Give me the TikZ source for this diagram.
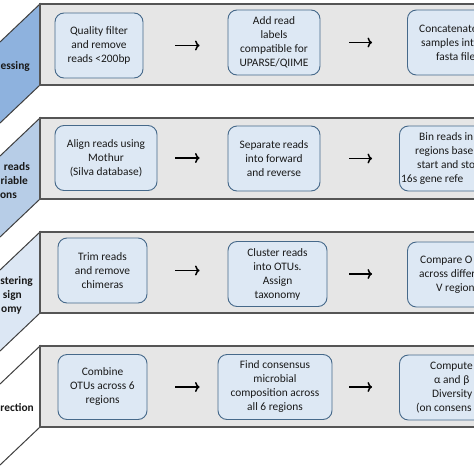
\documentclass[tikz,border=0pt]{standalone}
\usepackage{fontspec}
\setmainfont{Carlito}
\usetikzlibrary{arrows.meta}
\definecolor{panelfill}{HTML}{E6E6E6}
\definecolor{panelline}{HTML}{555555}
\definecolor{boxfill}{HTML}{DDE8F4}
\definecolor{boxline}{HTML}{46698A}
\definecolor{sideA}{HTML}{8EB2DE}
\definecolor{sideB}{HTML}{B7CDE7}
\definecolor{sideC}{HTML}{DCE7F4}
\definecolor{sideline}{HTML}{3F3F3F}
\begin{document}
\begin{tikzpicture}[x=1pt,y=-1pt,
  txt/.style={font=\fontsize{11.4}{14}\selectfont, text=black!90},
  stepbox/.style={txt, draw=boxline, fill=boxfill, line width=0.9pt, rounded corners=9pt, align=center, inner sep=0pt, minimum height=65pt},
  celltext/.style={txt, align=left, inner sep=0pt, anchor=west},
  sidetext/.style={txt, font=\fontsize{11.4}{14}\selectfont\bfseries, align=right, inner sep=0pt, anchor=east},
  panel/.style={draw=panelline, fill=panelfill, line width=1.3pt},
  side/.style={draw=sideline, line width=1pt},
  flowarrow/.style={-{To[length=4.5pt,width=10pt]}, line width=1.5pt, black}
]
\useasboundingbox (0,0) rectangle (474,474);
\clip (0,0) rectangle (474,474);
\fill[white] (0,0) rectangle (474,474);

% side faces
\draw[side, fill=sideA] (40,4) -- (40,85) -- (-10,132.5) -- (-10,51.5) -- cycle;
\draw[side, fill=sideB] (40,118) -- (40,199) -- (-10,246.5) -- (-10,165.5) -- cycle;
\draw[side, fill=sideC] (40,232) -- (40,313) -- (-10,360.5) -- (-10,279.5) -- cycle;
\draw[side, fill=white] (40,346) -- (40,427) -- (-10,474.5) -- (-10,393.5) -- cycle;

% panels
\draw[panel] (40,4) rectangle (500,85);
\draw[panel] (40,118) rectangle (500,199);
\draw[panel] (40,232) rectangle (500,313);
\draw[panel] (40,346) rectangle (500,427);

% side labels
\node[sidetext] (s1) at (30,66) {essing};
\node[sidetext] (s2) at (30,181) {reads\\riable\kern2pt\\ons\kern13pt};
\node[sidetext] (s3) at (33,295) {stering\\sign\kern11pt\\omy\kern11pt};
\node[sidetext] (s4) at (34,408) {rection};

% row 1
\node[stepbox, minimum width=88pt] (r1b1) at (99,45.5) {Quality filter\\and remove\\reads <200bp};
\node[stepbox, minimum width=92pt] (r1b2) at (274,42.5) {Add read\\labels\\compatible for\\UPARSE/QIIME};
\node[stepbox, minimum width=92pt, anchor=west] (r1b3) at (407,42.5) {};
\node[celltext] (r1t3) at (419,42.5) {Concatenate\\\hspace*{2pt}samples int\\\hspace*{17pt}fasta file};

% row 2
\node[stepbox, minimum width=102pt] (r2b1) at (106,158) {Align reads using\\Mothur\\(Silva database)};
\node[stepbox, minimum width=92pt] (r2b2) at (274,158.5) {Separate reads\\into forward\\and reverse};
\node[stepbox, minimum width=100pt, anchor=west] (r2b3) at (399,158.5) {};
\node[celltext] (r2t3) at (401,158.5) {\hspace*{18pt}Bin reads in\\\hspace*{14pt}regions base\\\hspace*{16pt}start and sto\\16s gene refe};

% row 3
\node[stepbox, minimum width=89pt] (r3b1) at (102.5,270.5) {Trim reads\\and remove\\chimeras};
\node[stepbox, minimum width=99pt] (r3b2) at (277.5,274) {Cluster reads\\into OTUs.\\Assign\\taxonomy};
\node[stepbox, minimum width=92pt, anchor=west] (r3b3) at (407,274.5) {};
\node[celltext] (r3t3) at (419,274.5) {\hspace*{1pt}Compare O\\across differ\\\hspace*{17pt}V regions};

% row 4
\node[stepbox, minimum width=89pt] (r4b1) at (102.5,387) {Combine\\OTUs across 6\\regions};
\node[stepbox, minimum width=114pt] (r4b2) at (275,387) {Find consensus\\microbial\\composition across\\all 6 regions};
\node[stepbox, minimum width=100pt, anchor=west] (r4b3) at (399,387.5) {};
\node[celltext] (r4t3) at (416,387.5) {\hspace*{14pt}Compute\\\hspace*{18pt}α and β\\\hspace*{16pt}Diversity\\(on consens};

% arrows
\draw[flowarrow, shorten <=32pt, shorten >=28pt] (r1b1.east) -- (r1b1.east -| r1b2.west);
\draw[flowarrow, shorten <=29pt, shorten >=35pt] (r1b2.east) -- (r1b2.east -| r1b3.west);
\draw[flowarrow, shorten <=18pt, shorten >=28pt] (r2b1.east) -- (r2b1.east -| r2b2.west);
\draw[flowarrow, shorten <=29pt, shorten >=27pt] (r2b2.east) -- (r2b2.east -| r2b3.west);
\draw[flowarrow, shorten <=28pt, shorten >=28pt] (r3b1.east) -- (r3b1.east -| r3b2.west);
\draw[flowarrow, shorten <=22pt, shorten >=35pt] (r3b2.east) -- (r3b2.east -| r3b3.west);
\draw[flowarrow, shorten <=28pt, shorten >=18pt] (r4b1.east) -- (r4b1.east -| r4b2.west);
\draw[flowarrow, shorten <=17pt, shorten >=27pt] (r4b2.east) -- (r4b2.east -| r4b3.west);
\end{tikzpicture}
\end{document}
